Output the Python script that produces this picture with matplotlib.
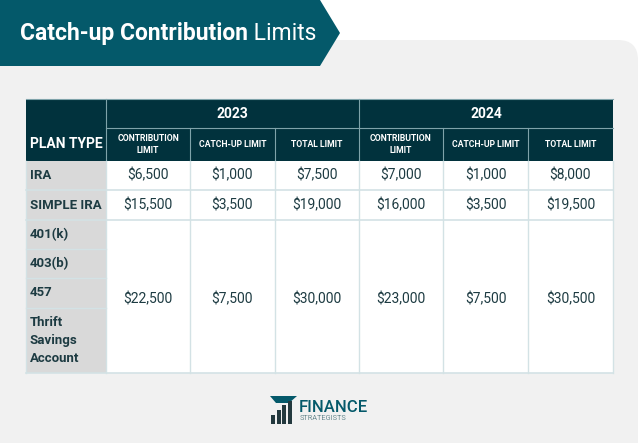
import matplotlib
matplotlib.use("Agg")
import matplotlib.pyplot as plt
from matplotlib.patches import Rectangle, Polygon, FancyBboxPatch

title_bold = "Catch-up Contribution"
title_light = " Limits"
years = ["2023", "2024"]
subheaders = ["CONTRIBUTION\nLIMIT", "CATCH-UP LIMIT", "TOTAL LIMIT"]
plan_types = ["IRA", "SIMPLE IRA", "401(k)", "403(b)", "457", "Thrift\nSavings\nAccount"]
ira = ["$6,500", "$1,000", "$7,500", "$7,000", "$1,000", "$8,000"]
simple_ira = ["$15,500", "$3,500", "$19,000", "$16,000", "$3,500", "$19,500"]
employer_plans = ["$22,500", "$7,500", "$30,000", "$23,000", "$7,500", "$30,500"]

W, H = 640, 443
fig = plt.figure(figsize=(6.4, 4.43), dpi=100)
ax = fig.add_axes([0, 0, 1, 1])
ax.set_xlim(0, W); ax.set_ylim(H, 0); ax.axis("off")
fig.patch.set_facecolor("white")

FONT = "Roboto"
DARK = "#01323d"
TEAL = "#04596a"
TXT = "#1d3b42"
GRID = "#d3e2e5"

ax.add_patch(FancyBboxPatch((0, 40), 638, 440, boxstyle="round,pad=0,rounding_size=20",
                            fc="#f1f1f1", ec="none"))
ax.add_patch(Polygon([(0, 0), (320, 0), (340, 33), (320, 66), (0, 66)], closed=True, fc=TEAL, ec="none"))
t = ax.text(20, 33, title_bold, color="white", fontsize=16.5, fontweight="bold", family=FONT, va="center")
fig.canvas.draw()
bb = t.get_window_extent()
x_end = ax.transData.inverted().transform((bb.x1, bb.y0))[0]
ax.text(x_end, 33, title_light, color="white", fontsize=16.5, family=FONT, va="center")

cols = [26, 106, 190, 275, 359, 443, 528, 613]
rows = [99, 128, 161, 190, 220, 249, 278, 308, 373]

ax.add_patch(Rectangle((cols[0], rows[0]), cols[-1] - cols[0], rows[2] - rows[0], fc=DARK, ec="none"))
ax.add_patch(Rectangle((cols[0], rows[2]), cols[1] - cols[0], rows[-1] - rows[2], fc="#d9d9d9", ec="none"))
ax.add_patch(Rectangle((cols[1], rows[2]), cols[-1] - cols[1], rows[-1] - rows[2], fc="white", ec="none"))

lc = "#7fa3aa"
for x in [cols[1], cols[4]]:
    ax.plot([x, x], [rows[0], rows[2]], color=lc, lw=0.8)
for x in [cols[2], cols[3], cols[5], cols[6]]:
    ax.plot([x, x], [rows[1], rows[2]], color=lc, lw=0.8)
ax.plot([cols[1], cols[-1]], [rows[1], rows[1]], color=lc, lw=0.8)
ax.plot([cols[0], cols[-1]], [rows[0], rows[0]], color=lc, lw=0.8)

for x in cols:
    ax.plot([x, x], [rows[2], rows[-1]], color=GRID, lw=1)
for y in rows[3:5] + [rows[-1]]:
    ax.plot([cols[0], cols[-1]], [y, y], color=GRID, lw=1.2)
for y in rows[5:8]:
    ax.plot([cols[0], cols[1]], [y, y], color=GRID, lw=1)

for i, yr in enumerate(years):
    xc = (cols[1 + 3 * i] + cols[4 + 3 * i]) / 2
    ax.text(xc, (rows[0] + rows[1]) / 2, yr, color="white", fontsize=10, fontweight="bold",
            family=FONT, ha="center", va="center")
    for j, sh in enumerate(subheaders):
        k = 1 + 3 * i + j
        ax.text((cols[k] + cols[k + 1]) / 2, (rows[1] + rows[2]) / 2, sh, color="white",
                fontsize=6.2, fontweight="bold", family=FONT, ha="center", va="center", linespacing=1.5)
ax.text(cols[0] + 4, (rows[1] + rows[2]) / 2, "PLAN TYPE", color="white", fontsize=10,
        fontweight="bold", family=FONT, va="center")

for r, name in enumerate(plan_types):
    y0, y1 = rows[2 + r], rows[3 + r]
    ax.text(cols[0] + 4, (y0 + y1) / 2, name, color=TXT, fontsize=9.5, fontweight="bold",
            family=FONT, va="center", linespacing=1.45)

for r, vals in enumerate([ira, simple_ira]):
    yc = (rows[2 + r] + rows[3 + r]) / 2
    for k, v in enumerate(vals):
        ax.text((cols[1 + k] + cols[2 + k]) / 2, yc, v, color=TXT, fontsize=10, family=FONT,
                ha="center", va="center")
yc = (rows[4] + rows[-1]) / 2 + 3
for k, v in enumerate(employer_plans):
    ax.text((cols[1 + k] + cols[2 + k]) / 2, yc, v, color=TXT, fontsize=10, family=FONT,
            ha="center", va="center")

# logo
ax.add_patch(Polygon([(270, 396), (297, 396), (289, 403), (276, 403)], fc=TEAL, ec="none"))
for i, h in enumerate([9, 14, 19, 23]):
    x = 271 + i * 5.5
    ax.add_patch(Rectangle((x, 424 - h), 4, h, fc="#23393e", ec="none"))
ax.text(299, 408, "FINANCE", color=TEAL, fontsize=12, family=FONT, va="center", fontweight="medium")
ax.text(300, 419, "STRATEGISTS", color="#6a8a90", fontsize=5.3, family=FONT, va="center")

fig.savefig("out.png", dpi=100)
